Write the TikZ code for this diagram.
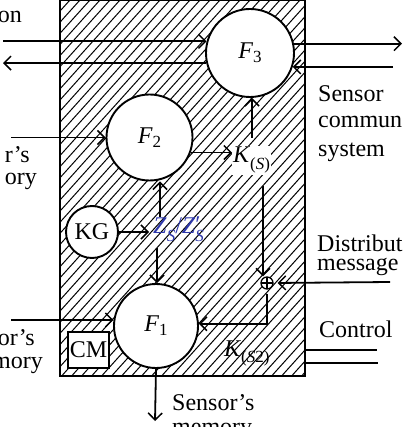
\documentclass[tikz,border=0pt]{standalone}
\usepackage{fontspec}
\setmainfont{Liberation Serif}
\usetikzlibrary{arrows.meta}
\definecolor{zblue}{RGB}{45,55,170}
\newcommand\subtx[3]{#1\raisebox{-#3}{\fontsize{17}{17}\selectfont #2}}
\tikzset{
  lbl/.style={font=\fontsize{24}{28}\selectfont, inner sep=0pt},
  fcirc/.style={circle, draw, fill=white, line width=1.9pt, inner sep=0pt, font=\fontsize{24}{28}\selectfont},
  arr/.style={line width=1.8pt, -{Straight Barb[length=7pt,width=14pt,line width=1.5pt]}},
  ln/.style={line width=1.9pt},
  hatch/.style={line width=1.0pt},
  oplus/.style={circle, draw, fill=white, line width=1.3pt, minimum size=12pt, inner sep=0pt,
    path picture={\draw[line width=1.3pt] (path picture bounding box.north) -- (path picture bounding box.south)
      (path picture bounding box.west) -- (path picture bounding box.east);}}
}
\begin{document}
\begin{tikzpicture}[x=1pt,y=-1pt]
\useasboundingbox (0,0) rectangle (403,427);
\clip (0,0) rectangle (403,427);
% hatching
\begin{scope}
  \clip (60,-2) rectangle (305,376);
  \foreach \i in {0,...,76} \draw[hatch] (\i*10-400,400) -- ++(396,-440);
\end{scope}
\draw[ln] (60,0) rectangle (305,376);
% nodes
\node[fcirc, minimum size=88pt] (F3) at (250,53) {\subtx{\textit{F}}{3}{4pt}};
\node[fcirc, minimum size=86pt] (F2) at (149.5,137.5) {\subtx{\textit{F}}{2}{4pt}};
\node[fcirc, minimum size=84pt] (F1) at (156,326) {\subtx{\textit{F}}{1}{4pt}};
\node[fcirc, minimum size=52pt] (KG) at (92,232) {KG};
\node[draw, fill=white, line width=1.9pt, minimum width=41pt, minimum height=36pt, inner sep=0pt,
      font=\fontsize{24}{28}\selectfont] (CM) at (88.5,350) {CM};
\node[lbl, anchor=base west, text=zblue] (Z) at (153,233)
  {\subtx{\textit{Z}}{\textit{S}}{8pt}/\textit{Z}\rlap{\raisebox{1pt}{′}}\raisebox{-8pt}{\fontsize{17}{17}\selectfont\textit{S}}};
\node[lbl, anchor=base west, fill=white, inner sep=1pt] (kS) at (232,163) {\subtx{\textit{K}}{(\textit{S})}{7pt}};
\node[lbl, anchor=base west] (kS2) at (224,356) {\subtx{\textit{K}}{(\textit{S}2)}{6pt}};
\node[oplus] (op) at (267,283) {};
% free ends
\coordinate (inL) at (3,0);
\coordinate (inL2) at (11,0);
\coordinate (outR) at (402,0);
\coordinate (inR) at (393,0);
\coordinate (kSup) at (252,138);
\coordinate (kSdn) at (263,186);
\coordinate (dm) at (390,282);
\coordinate (zu) at (160,217);
\coordinate (zd) at (157,248);
\coordinate (bot) at (155,421);
\coordinate (c1a) at (305,350);
\coordinate (c1b) at (377,350);
\coordinate (c2a) at (305,363);
\coordinate (c2b) at (378,363);
% connectors
\draw[arr] (inL |- F3.165) -- (F3.165);
\draw[arr] (F3.193) -- (inL |- F3.193);
\draw[arr] (F3.12) -- (outR |- F3.12);
\draw[arr] (inR |- F3.-18) -- (F3.-18);
\draw[arr] (inL2 |- F2.180) -- (F2.180);
\draw[arr] (F2.-20) -- (kS.west |- F2.-20);
\draw[arr] (kSup) -- (kSup |- F3.south);
\draw[arr] (kSdn) -- (kSdn |- op.north);
\draw[arr, shorten >=4pt] (dm) -- (op.east);
\draw[arr, shorten <=4pt] (op.south) |- (F1.3);
\draw[arr, shorten >=4pt] (KG.east) -- (KG.east -| Z.west);
\draw[arr] (zu) -- (zu |- F2.south);
\draw[arr] (zd) -- (zd |- F1.north);
\draw[arr] (inL2 |- F1.172) -- (F1.172);
\draw[arr] (F1.south) -- (bot);
\draw[ln] (c1a) -- (c1b);
\draw[ln] (c2a) -- (c2b);
% texts
\node[lbl, anchor=base east] (t1) at (22,23) {on};
\node[lbl, anchor=base east] (t2) at (30,163) {r’s};
\node[lbl, anchor=base east] (t3) at (37,185) {ory};
\node[lbl, anchor=base east] (t4) at (35,345) {sor’s};
\node[lbl, anchor=base east] (t5) at (43,368) {mory};
\node[lbl, anchor=base west] (t6) at (318,102) {Sensor};
\node[lbl, anchor=base west] (t7) at (318,128) {commun};
\node[lbl, anchor=base west] (t8) at (318,157) {system};
\node[lbl, anchor=base west] (t9) at (317,251) {Distribut};
\node[lbl, anchor=base west] (t10) at (317,270) {message};
\node[lbl, anchor=base west] (t11) at (319,337) {Control};
\node[lbl, anchor=base west] (t12) at (172,410) {Sensor’s};
\node[lbl, anchor=base west] (t13) at (172,434) {memory};
\end{tikzpicture}
\end{document}
